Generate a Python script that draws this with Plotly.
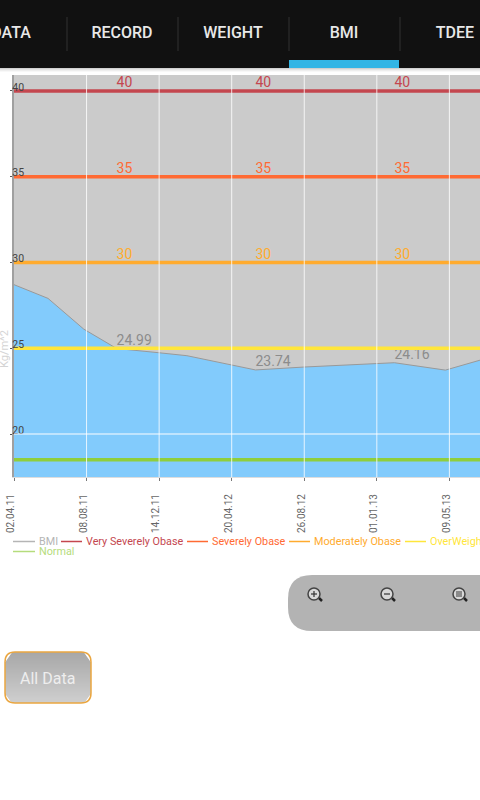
import plotly.graph_objects as go

W, H = 480, 800

bmi_dates = ['2011-04-02', '2011-06-01', '2011-08-03', '2011-09-30', '2011-12-14', '2012-02-01',
             '2012-06-01', '2012-08-26', '2013-02-01', '2013-05-02', '2013-07-02']
bmi_values = [28.71, 27.91, 26.12, 24.99, 24.74, 24.57, 23.74, 23.91, 24.16, 23.73, 24.31]
bmi_text = ['', '', '', '24.99', '', '', '23.74', '', '24.16', '', '']

line_names = ['Very Severely Obase', 'Severely Obase', 'Moderately Obase', 'OverWeight', 'Normal']
line_values = [40, 35, 30, 25, 18.5]
line_colors = ['#c4474f', '#ff6a33', '#ffab2e', '#ffe63b', '#8fce3c']
line_labels = ['40', '35', '30', '', '']
label_dates = ['2011-09-30', '2012-06-01', '2013-02-01']

tick_dates = ['2011-04-02', '2011-08-08', '2011-12-14', '2012-04-20', '2012-08-26', '2013-01-01', '2013-05-09']
tick_labels = ['02.04.11', '08.08.11', '14.12.11', '20.04.12', '26.08.12', '01.01.13', '09.05.13']
y_ticks = [20, 25, 30, 35, 40]

tabs = ['DATA', 'RECORD', 'WEIGHT', 'BMI', 'TDEE']
tab_centers = [11, 122, 233, 344, 455]

x_range = ['2011-04-02', '2013-07-02']
y_range = [17.5, 40.93]


def px(x):
    return x / W


def py(y):
    return 1 - y / H


def box(x0, y0, x1, y1, color, layer='above'):
    return dict(type='rect', xref='paper', yref='paper', x0=px(x0), x1=px(x1), y0=py(y0), y1=py(y1),
                fillcolor=color, line_width=0, layer=layer)


def seg(x0, y0, x1, y1, color, width=1):
    return dict(type='line', xref='paper', yref='paper', x0=px(x0), x1=px(x1), y0=py(y0), y1=py(y1),
                line=dict(color=color, width=width), layer='above')


def rounded(x0, y0, x1, y1, r, fill, border=None):
    path = (f'M {px(x0 + r)} {py(y0)} L {px(x1 - r)} {py(y0)} Q {px(x1)} {py(y0)} {px(x1)} {py(y0 + r)} '
            f'L {px(x1)} {py(y1 - r)} Q {px(x1)} {py(y1)} {px(x1 - r)} {py(y1)} L {px(x0 + r)} {py(y1)} '
            f'Q {px(x0)} {py(y1)} {px(x0)} {py(y1 - r)} L {px(x0)} {py(y0 + r)} Q {px(x0)} {py(y0)} {px(x0 + r)} {py(y0)} Z')
    return dict(type='path', xref='paper', yref='paper', path=path, fillcolor=fill, layer='above',
                line=dict(color=border or 'rgba(0,0,0,0)', width=1.5 if border else 0))


def label(x, y, text, color, size, anchor='center', weight=None):
    return dict(xref='paper', yref='paper', x=px(x), y=py(y), text=text, showarrow=False, xanchor=anchor,
                yanchor='middle', borderpad=0, font=dict(family='Roboto', size=size, color=color, weight=weight))


fig = go.Figure()

fig.add_trace(go.Scatter(x=bmi_dates, y=bmi_values, text=bmi_text, mode='lines+text', fill='tozeroy',
                         fillcolor='#82cbfc', line=dict(color='#999999', width=1), textposition='top right',
                         textfont=dict(family='Roboto', size=14, color='#8c8c8c'), name='BMI'))

for name, value, color, text in zip(line_names, line_values, line_colors, line_labels):
    fig.add_trace(go.Scatter(x=[x_range[0]] + label_dates + [x_range[1]], y=[value] * 5,
                             text=[''] + [text] * 3 + [''], mode='lines+text', textposition='top right',
                             line=dict(color=color, width=3.5), textfont=dict(family='Roboto', size=14, color=color),
                             name=name))

# tab titles on a hidden page-sized axis pair so DATA can run off the left edge
fig.add_trace(go.Scatter(x=tab_centers, y=[34] * len(tabs), text=tabs, mode='text', xaxis='x2', yaxis='y2',
                         cliponaxis=False, textposition='middle center',
                         textfont=dict(family='Roboto', size=16, color='#e8e8e8', weight=500)))

shapes = []
# plot background as a shape, the page-sized subplot would paint over the page otherwise
shapes.append(dict(type='rect', xref='x domain', yref='y domain', x0=0, x1=1, y0=0, y1=1,
                   fillcolor='#cbcbcb', line_width=0, layer='below'))
# white grid has to sit over the area and the lines
for d in tick_dates[1:]:
    shapes.append(dict(type='line', xref='x', yref='paper', x0=d, x1=d, y0=py(477), y1=py(75),
                       line=dict(color='rgba(255,255,255,0.8)', width=1), layer='above'))
shapes.append(dict(type='line', xref='paper', yref='y', x0=px(14), x1=1, y0=y_ticks[0], y1=y_ticks[0],
                   line=dict(color='rgba(255,255,255,0.65)', width=1.5), layer='above'))

# action bar
shapes.append(box(0, 0, W, 68, '#111111', layer='below'))
for i, c in enumerate(['#d0d0d0', '#e2e2e2', '#eeeeee', '#f8f8f8']):
    shapes.append(box(0, 68 + i, W, 69 + i, c))
for x in [67, 178, 289, 400]:
    shapes.append(seg(x, 17, x, 51, '#333333'))
shapes.append(box(289, 60, 399, 68, '#33b5e5'))

# zoom controls
shapes.append(rounded(288, 575, 520, 631, 24, '#b3b3b3'))
for cx in [314, 387, 459]:
    shapes.append(seg(cx + 5, 598, cx + 8, 601, '#222222', 2.5))
    shapes.append(dict(type='circle', xref='paper', yref='paper', x0=px(cx - 6), x1=px(cx + 6), y0=py(600), y1=py(588),
                       fillcolor='#d8d8d8', line=dict(color='#444444', width=1.5), layer='above'))
shapes.append(seg(311, 594, 317, 594, '#333333', 1.2))
shapes.append(seg(314, 591, 314, 597, '#333333', 1.2))
shapes.append(seg(384, 594, 390, 594, '#333333', 1.2))
shapes.append(box(456, 591, 462, 597, '#8a8a8a'))

# All Data button, gradient drawn row by row
btn_top, btn_bottom = 652, 703
for row in range(btn_top, btn_bottom):
    t = (row - btn_top) / (btn_bottom - btn_top)
    g = int(168 + 40 * t)
    d = min(row - btn_top, btn_bottom - row)
    inset = max(0, 10 - d) * 0.7
    shapes.append(box(5 + inset, row, 91 - inset, row + 1, f'rgb({g},{g},{g})'))
shapes.append(rounded(5, btn_top, 91, btn_bottom, 10, 'rgba(0,0,0,0)', '#eaa640'))

# legend
legend_rows = [(13, 38, 541.5, 'BMI', '#b5b5b5'),
               (61, 85, 541.5, line_names[0], line_colors[0]),
               (187, 211, 541.5, line_names[1], line_colors[1]),
               (289, 313, 541.5, line_names[2], line_colors[2]),
               (405, 429, 541.5, line_names[3], line_colors[3]),
               (13, 38, 551.5, line_names[4], '#b5dc7c')]
annotations = []
for x0, xt, y, name, color in legend_rows:
    shapes.append(seg(x0, y, xt - 3, y, color, 1.5))
    annotations.append(label(xt, y, name, color, 10.8, 'left'))

annotations.append(label(47.5, 678, 'All Data', '#eeeeee', 16))
annotations.append(dict(xref='paper', yref='paper', x=px(4), y=py(349), text='Kg/m^2', textangle=-90, xanchor='center',
                        showarrow=False, font=dict(family='Roboto', size=11, color='#d4d4d4')))

fig.update_layout(
    width=W, height=H, margin=dict(l=0, r=0, t=0, b=0, autoexpand=False), showlegend=False,
    paper_bgcolor='white', plot_bgcolor='rgba(0,0,0,0)', shapes=shapes, annotations=annotations,
    font=dict(family='Roboto'),
    xaxis=dict(domain=[px(14), 1], range=x_range, type='date', tickvals=tick_dates, ticktext=tick_labels,
               tickangle=-90, showgrid=False, ticks='outside', ticklen=3, tickcolor='#777777',
               showline=True, linecolor='#dddddd', ticklabelstandoff=9, ticklabelshift=-3,
               ticklabeloverflow='allow',
               tickfont=dict(family='Roboto', size=10, color='#666666'), zeroline=False),
    yaxis=dict(domain=[py(477), py(75)], range=y_range, tickvals=y_ticks, showgrid=False, zeroline=False,
               ticks='outside', ticklen=2, tickcolor='#555555', showline=True, linecolor='#a0a0a0', linewidth=1.5,
               ticklabelstandoff=-16, ticklabelshift=-4, ticklabeloverflow='allow',
               tickfont=dict(family='Roboto', size=10.5, color='#444444')),
    xaxis2=dict(domain=[0, 1], range=[0, W], visible=False, anchor='y2'),
    yaxis2=dict(domain=[0, 1], range=[H, 0], visible=False, anchor='x2'),
)

fig.write_html('out.html', config=dict(displayModeBar=False),
               post_script="document.body.style.margin='0';document.body.style.overflow='hidden';")
